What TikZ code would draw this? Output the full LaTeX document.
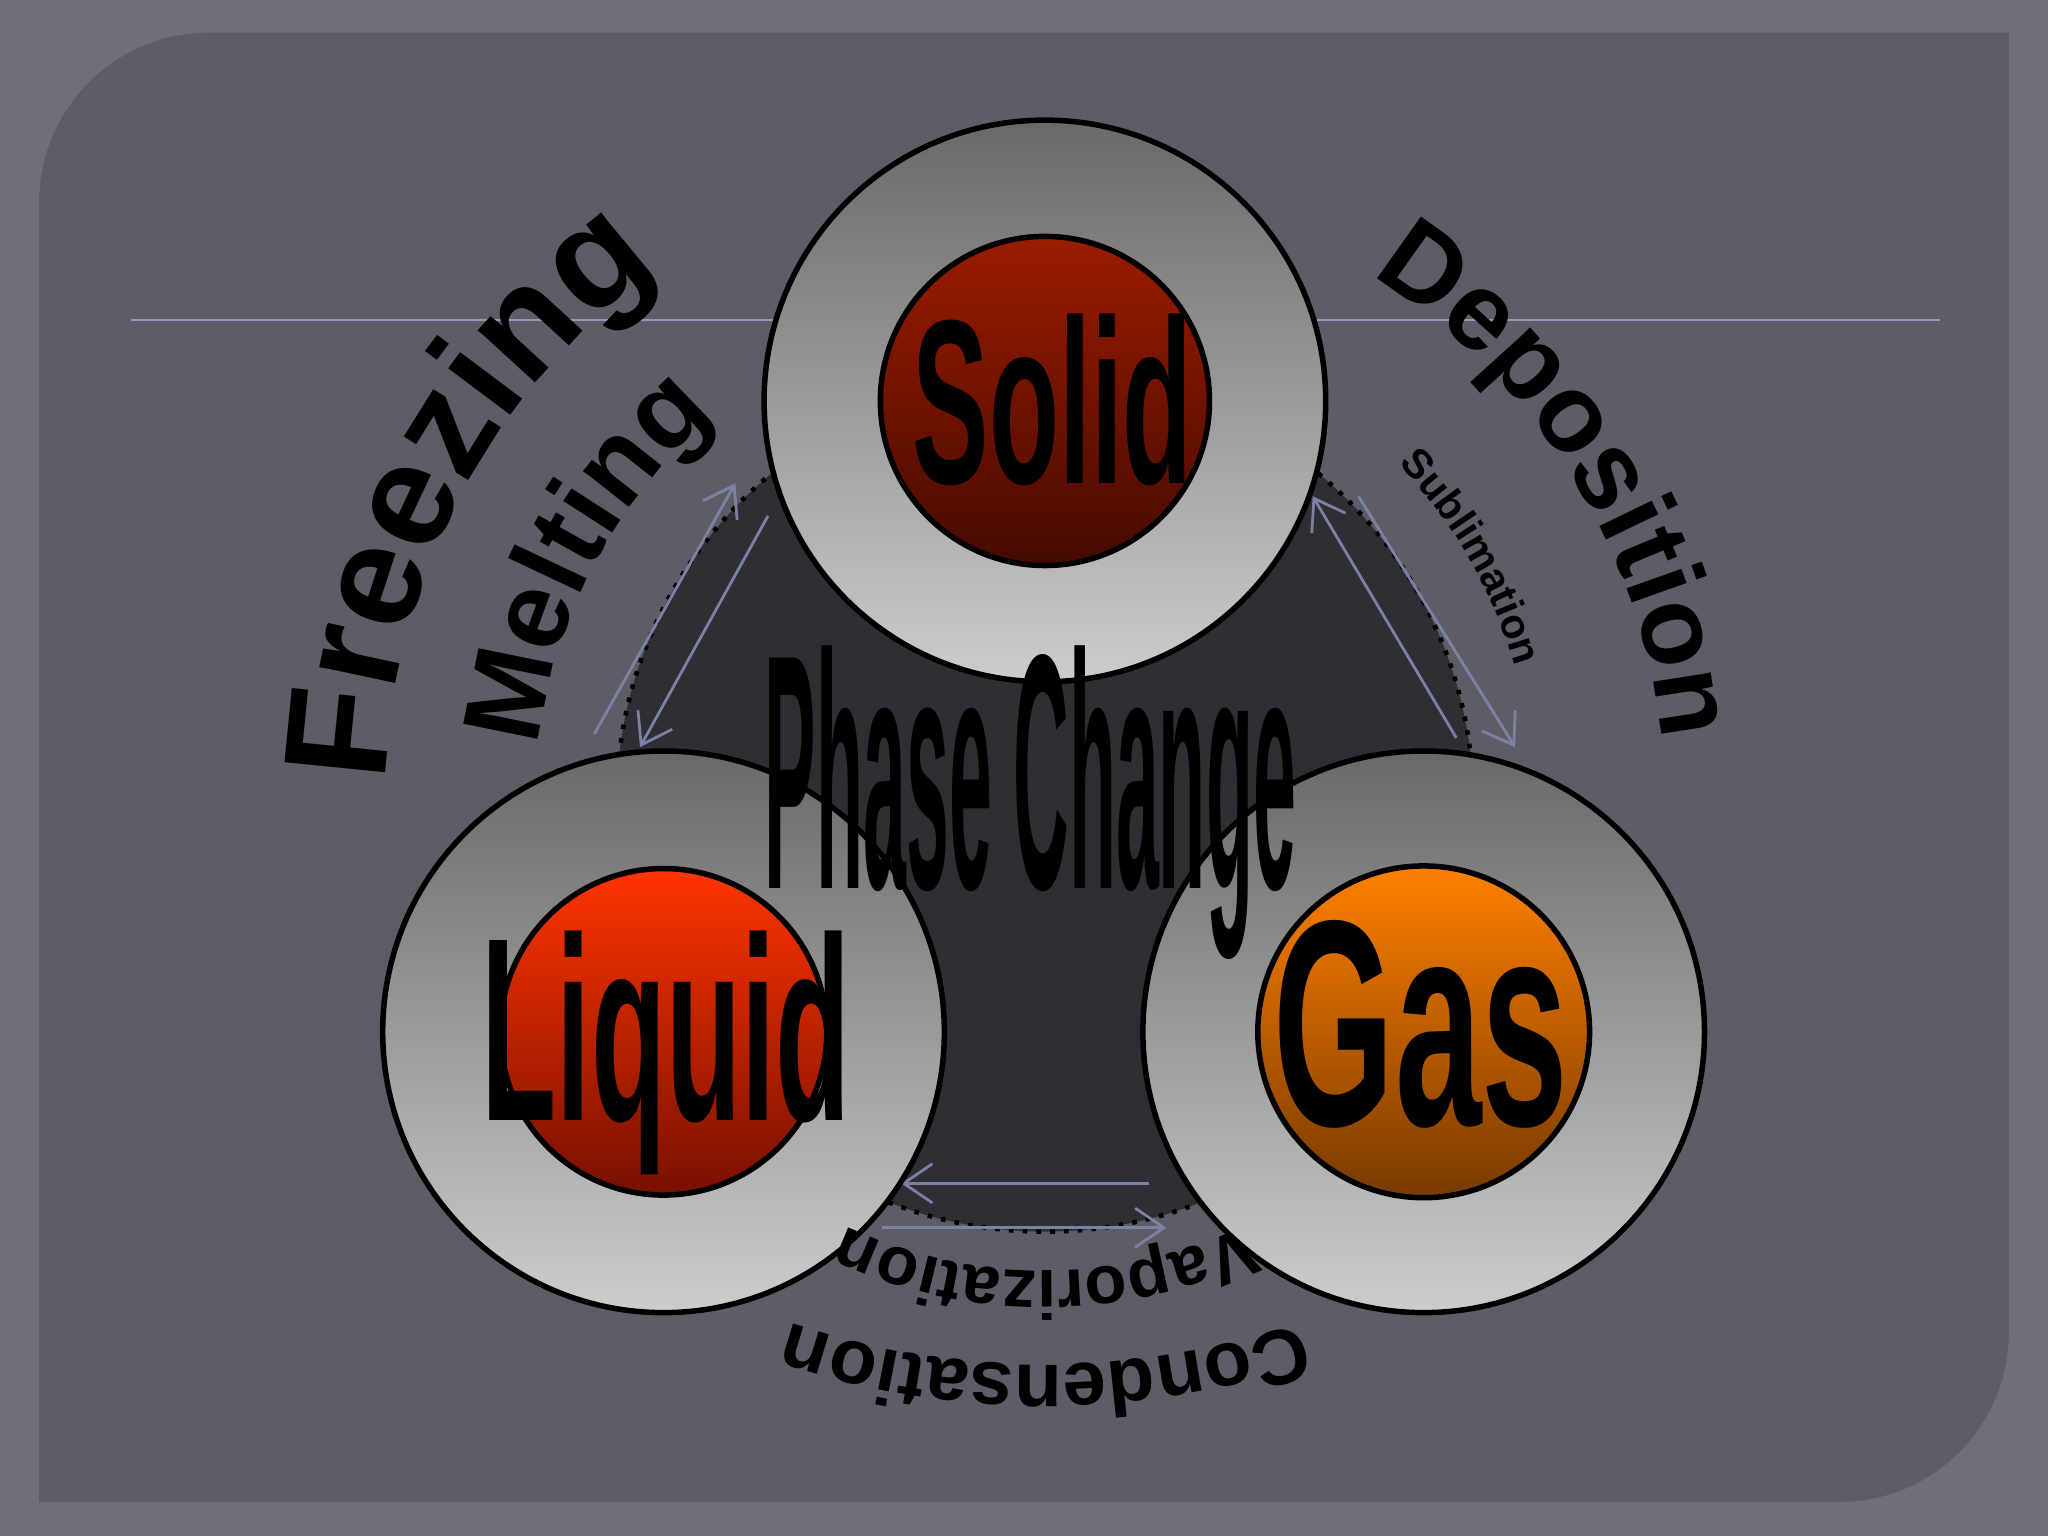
\documentclass[tikz,border=0pt]{standalone}
\usepackage{fontspec}
\setmainfont{Liberation Sans}
\usetikzlibrary{decorations.text,arrows.meta}
\definecolor{frameC}{RGB}{112,111,120}
\definecolor{bgC}{RGB}{94,93,103}
\definecolor{darkC}{RGB}{47,46,52}
\definecolor{arrC}{RGB}{125,130,165}
\tikzset{
 outerc/.style={draw=black,line width=1.2pt,top color={rgb,255:red,105;green,105;blue,105},bottom color={rgb,255:red,205;green,205;blue,205}},
 innerc/.style={draw=black,line width=1.2pt},
 bigtxt/.style={text=black,anchor=base,inner sep=0pt},
 flow/.style={draw=arrC,line width=0.6pt,-{Straight Barb[length=2.2mm,width=3mm]}},
 curv/.style={decorate,decoration={text along path,text align=center,text color=black}}
}
\begin{document}
\begin{tikzpicture}
\useasboundingbox (0,0) rectangle (15.68,11.76);
\fill[frameC] (0,0) rectangle (15.68,11.76);
\fill[bgC] (0.30,0.26) -- (0.30,10.21) arc[start angle=180,end angle=90,radius=1.3] -- (15.38,11.51) -- (15.38,1.56) arc[start angle=0,end angle=-90,radius=1.3] -- cycle;
\coordinate (l1) at (1.0,9.31); \coordinate (l2) at (14.85,9.31);
\draw[color={rgb,255:red,150;green,150;blue,185},line width=0.6pt] (l1) -- (l2);
\coordinate (C) at (8.0,5.61);
\coordinate (C2) at (8.0,7.36);
\fill[darkC] (C) circle (3.28);
\draw[black,dotted,line width=1pt] (C) circle (3.28);
% arrows
\coordinate (m1) at (4.55,6.14); \coordinate (m2) at (5.63,8.06);
\coordinate (m3) at (5.88,7.81); \coordinate (m4) at (4.90,6.04);
\coordinate (d1) at (10.40,7.96); \coordinate (d2) at (11.60,6.04);
\coordinate (d3) at (11.15,6.11); \coordinate (d4) at (10.05,7.96);
\coordinate (v1) at (8.80,2.70); \coordinate (v2) at (6.90,2.70);
\coordinate (v3) at (6.75,2.36); \coordinate (v4) at (8.93,2.36);
\draw[flow] (m1) -- (m2);
\draw[flow] (m3) -- (m4);
\draw[flow] (d1) -- (d2);
\draw[flow] (d3) -- (d4);
\draw[flow] (v1) -- (v2);
\draw[flow] (v3) -- (v4);
% circles
\coordinate (S) at (8.00,8.69);
\coordinate (L) at (5.08,3.86);
\coordinate (G) at (10.90,3.86);
\shade[outerc] (S) circle (2.15);
\shade[outerc] (L) circle (2.15);
\shade[outerc] (G) circle (2.15);
\shade[innerc,top color={rgb,255:red,155;green,28;blue,0},bottom color={rgb,255:red,70;green,10;blue,0}] (S) circle (1.26);
\shade[innerc,top color={rgb,255:red,255;green,52;blue,0},bottom color={rgb,255:red,120;green,16;blue,0}] (L) circle (1.25);
\shade[innerc,top color={rgb,255:red,255;green,128;blue,0},bottom color={rgb,255:red,120;green,58;blue,0}] (G) circle (1.27);
% labels
\node[bigtxt,xscale=0.49,font=\bfseries\fontsize{51}{51}\selectfont] (ts) at (8.06,8.06) {Solid};
\node[bigtxt,xscale=0.47,font=\bfseries\fontsize{57}{57}\selectfont] (tl) at (5.10,3.18) {Liquid};
\node[bigtxt,xscale=0.53,font=\bfseries\fontsize{64}{64}\selectfont] (tg) at (10.88,3.14) {Gas};
\node[bigtxt,xscale=0.23,font=\bfseries\fontsize{73}{73}\selectfont] (tp) at (7.89,4.96) {Phase Change};
% curved labels
\path[curv,decoration={text={|\bfseries\fontsize{32}{32}\selectfont|Freezing}}] (C) ++(210:5.05) arc[start angle=210,end angle=94,radius=5.05];
\path[curv,decoration={text={|\bfseries\fontsize{24}{24}\selectfont|Melting}}] (C) ++(200:3.9) arc[start angle=200,end angle=104,radius=3.9];
\path[curv,decoration={text={|\bfseries\fontsize{24}{24}\selectfont|Deposition}}] (C) ++(80:4.75) arc[start angle=80,end angle=-16,radius=4.75];
\path[curv,decoration={text={|\bfseries\fontsize{9}{9}\selectfont|Sublimation}}] (C) ++(55:3.75) arc[start angle=55,end angle=5,radius=3.75];
\path[curv,decoration={text={|\bfseries\fontsize{15}{15}\selectfont|Vaporization}}] (C) ++(330:3.58) arc[start angle=330,end angle=210,radius=3.58];
\path[curv,decoration={text={|\bfseries\fontsize{17}{17}\selectfont|Condensation}}] (C2) ++(315:6.05) arc[start angle=315,end angle=225,radius=6.05];
\end{tikzpicture}
\end{document}
